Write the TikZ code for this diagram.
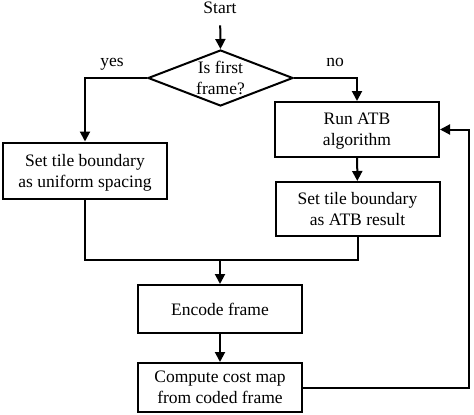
\documentclass[tikz,border=0pt]{standalone}
\usepackage{fontspec}
\setmainfont{Liberation Serif}
\usepackage{tikz}
\usetikzlibrary{shapes, shapes.geometric, arrows.meta, positioning}

\begin{document}
\begin{tikzpicture}[x=1pt,y=1pt,yscale=-1,xscale=1,
  font=\fontsize{17.5}{21}\selectfont,
  procbox/.style={draw, line width=2pt, align=center, minimum width=164pt, inner sep=0pt, text depth=-2pt},
  decision/.style={draw, line width=2pt, diamond, aspect=2.6, inner sep=0pt, minimum width=145pt, minimum height=56pt, align=center, text depth=-2pt},
  flow/.style={line width=2pt, -{Triangle[length=10pt,width=10pt]}},
  wire/.style={line width=2pt}]
\useasboundingbox (0,0) rectangle (474,415);

%Text Node: start
\node (start) at (220,8.2) [inner sep=1pt] {Start};
%Flowchart: Decision
\node (frst) at (220.5,78) [decision] {Is first\\frame?};
% Text Node
\node (yes) at (112,64) {yes};
% Text Node
\node (no) at (335,62) {no};

%Shape: Rectangle
\node (uni) at (85,170.5) [procbox, minimum height=56pt] {Set tile boundary\\as uniform spacing};
%Shape: Rectangle
\node (atb) at (357,129.5) [procbox, minimum height=55pt] {Run ATB\\algorithm};
%Shape: Rectangle
\node (res) at (357.5,209) [procbox, minimum height=54pt] {Set tile boundary\\as ATB result};
%Shape: Rectangle
\node (enc) at (220,309) [procbox, minimum height=48pt] {Encode frame};
%Shape: Rectangle
\node (cost) at (220,387.5) [procbox, minimum height=49pt] {Compute cost map\\from coded frame};

\coordinate (mrg) at (220,260);
\coordinate (fb) at (469,387.5);

%Straight Lines
\draw [flow, shorten <=10pt] (start) -- (frst.north);
\draw [flow] (frst.west) -| (uni.north);
\draw [flow] (frst.east) -| (atb.north);
\draw [flow] (atb) -- (res);
\draw [wire] (uni.south) |- (mrg) -| (res.south);
\draw [flow] (mrg) -- (enc.north);
\draw [flow] (enc) -- (cost);
\draw [flow] (cost.east) -- (fb) |- (atb.east);

\end{tikzpicture}
\end{document}
